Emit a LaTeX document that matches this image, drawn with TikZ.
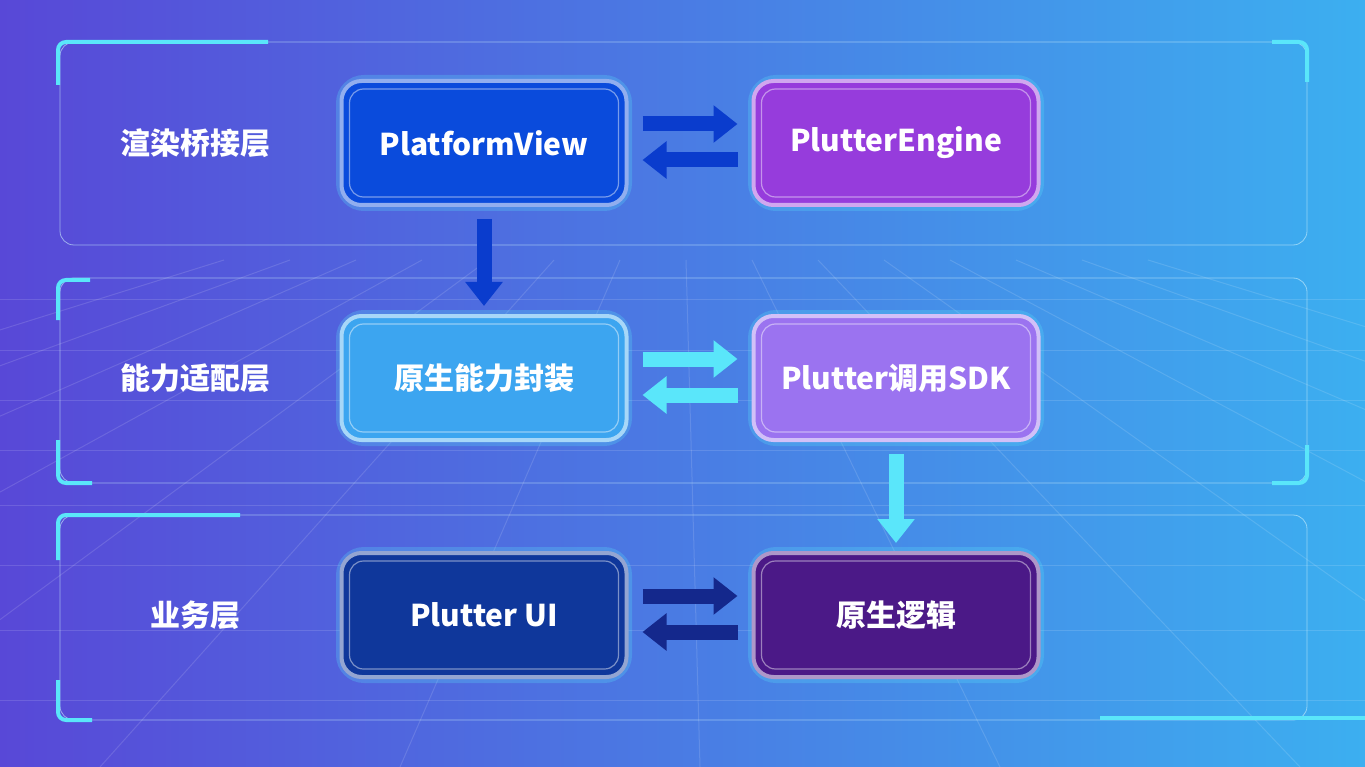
\documentclass[tikz,border=0pt]{standalone}
\usepackage{fontspec}
\setmainfont{Noto Sans CJK SC}
\usetikzlibrary{arrows.meta}
\definecolor{bgL}{RGB}{88,72,215}
\definecolor{bgR}{RGB}{60,175,240}
\definecolor{cy}{RGB}{90,230,250}
\definecolor{c1}{RGB}{10,75,220}
\definecolor{c2}{RGB}{150,60,220}
\definecolor{c3}{RGB}{60,165,240}
\definecolor{c4}{RGB}{155,115,240}
\definecolor{c5}{RGB}{15,55,155}
\definecolor{c6}{RGB}{75,25,135}
\definecolor{a1}{RGB}{10,60,205}
\definecolor{a3}{RGB}{20,40,140}
\tikzset{
 panel/.style={draw=white!80!cyan, draw opacity=0.6, line width=0.8pt, rounded corners=14pt},
 brk/.style={draw=cy, line width=4pt, rounded corners=8pt},
 box/.style={minimum width=285pt, minimum height=124pt, rounded corners=20pt, line width=4pt, text=white, font=\fontsize{30}{34}\selectfont\bfseries},
 inner/.style={draw=white, draw opacity=0.45, line width=1.2pt, rounded corners=14pt},
 glow/.style={draw=cy, line width=12pt, opacity=0.25, rounded corners=22pt},
 lay/.style={text=white, font=\fontsize{30}{34}\selectfont\bfseries},
 arr/.style={line width=15pt, -{Triangle[width=36pt,length=24pt]}},
}
\begin{document}
\begin{tikzpicture}[x=1pt,y=-1pt]
\useasboundingbox (0,0) rectangle (1365,767);
\shade[left color=bgL, right color=bgR] (0,0) rectangle (1365,767);
% grid floor
\begin{scope}[draw=white, opacity=0.13, line width=1pt]
\foreach \yy in {300,350,400,450,505,565,630,700} \draw (0,\yy) -- (1365,\yy);
\foreach \xx in {-1400,-1100,-800,-500,-200,100,400,700,1000,1300,1600,1900,2200,2500,2800} \draw (682+0.22*\xx-150,260) -- (\xx,767);
\end{scope}
% panels
\foreach \a/\b in {42/245,278/483,515/720}{
 \draw[panel] (60,\a) rectangle (1307,\b);
}
\draw[brk] (58,85) |- (268,42);
\draw[brk] (1272,42) -| (1307,82);
\draw[brk] (58,320) |- (90,280);
\draw[brk] (58,440) |- (92,483);
\draw[brk] (1307,445) |- (1272,483);
\draw[brk] (58,560) |- (240,515);
\draw[brk] (58,680) |- (92,720);
\draw[brk] (1100,718) -- (1365,718);
% layer labels
\node[lay] (l1) at (195,143) {渲染桥接层};
\node[lay] (l2) at (195,378) {能力适配层};
\node[lay] (l3) at (195,615) {业务层};
% boxes
\foreach \n/\x/\y/\c/\t in {pv/484/143/c1/PlatformView, pe/896/143/c2/PlutterEngine, nc/484/378/c3/原生能力封装, sdk/896/378/c4/Plutter调用SDK, ui/484/615/c5/Plutter UI, nl/896/615/c6/原生逻辑}{
 \draw[glow] (\x-142,\y-62) rectangle (\x+142,\y+62);
 \node[box, fill=\c, draw=\c!45!white] (\n) at (\x,\y) {\t};
 \draw[inner] ([shift={(10,10)}]\n.north west) rectangle ([shift={(-10,-10)}]\n.south east);
}
% arrows
\draw[arr, a1] ([xshift=14pt,yshift=19pt]pv.east) -- ([xshift=-14pt,yshift=19pt]pe.west);
\draw[arr, a1] ([xshift=-14pt,yshift=-17pt]pe.west) -- ([xshift=14pt,yshift=-17pt]pv.east);
\draw[arr, cy] ([xshift=14pt,yshift=19pt]nc.east) -- ([xshift=-14pt,yshift=19pt]sdk.west);
\draw[arr, cy] ([xshift=-14pt,yshift=-17pt]sdk.west) -- ([xshift=14pt,yshift=-17pt]nc.east);
\draw[arr, a3] ([xshift=14pt,yshift=19pt]ui.east) -- ([xshift=-14pt,yshift=19pt]nl.west);
\draw[arr, a3] ([xshift=-14pt,yshift=-17pt]nl.west) -- ([xshift=14pt,yshift=-17pt]ui.east);
\draw[arr, a1] ([yshift=-12pt]pv.south) -- ([yshift=8pt]nc.north);
\draw[arr, cy] ([yshift=-12pt]sdk.south) -- ([yshift=8pt]nl.north);
\end{tikzpicture}
\end{document}
